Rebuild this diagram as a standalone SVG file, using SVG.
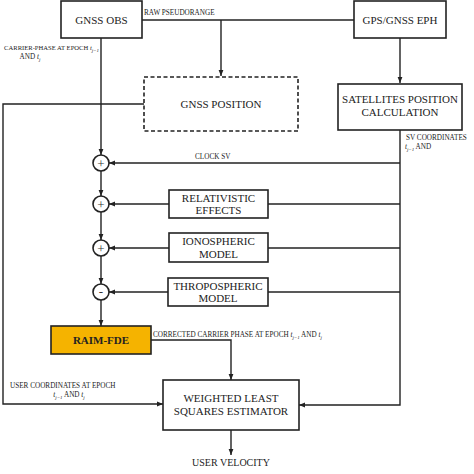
<svg xmlns="http://www.w3.org/2000/svg" width="474" height="474" viewBox="0 0 474 474">
<defs>
<style>
.box{fill:#fff;stroke:#222;stroke-width:1.6}
.dash{fill:#fff;stroke:#222;stroke-width:1.6;stroke-dasharray:4,2.5}
.raim{fill:#F5B300;stroke:#222;stroke-width:1.6}
.ln{fill:none;stroke:#222;stroke-width:1.4}
text{font-family:'Liberation Serif','Times New Roman','DejaVu Serif',serif}
.t{font-size:11px;fill:#222;text-anchor:middle}
.s{font-size:7.2px;fill:#222}
.b{font-weight:bold}
.sub{font-size:5px}
.it{font-style:italic}
.sg{font-size:13px;fill:#333;text-anchor:middle}
</style>
<marker id="ar" viewBox="0 0 10 10" refX="10" refY="5" markerWidth="6" markerHeight="6" orient="auto" markerUnits="userSpaceOnUse">
<path d="M0,1 L10,5 L0,9 z" fill="#222"/>
</marker>
</defs>
<rect width="474" height="474" fill="#fff"/>
<g id="connectors">
<path class="ln" d="M142,20 H354"/>
<path class="ln" d="M221,20 V76" marker-end="url(#ar)"/>
<path class="ln" d="M400,38 V83" marker-end="url(#ar)"/>
<path class="ln" d="M101,38 V155" marker-end="url(#ar)"/>
<path class="ln" d="M101,171 V196" marker-end="url(#ar)"/>
<path class="ln" d="M101,212 V240" marker-end="url(#ar)"/>
<path class="ln" d="M101,256 V284" marker-end="url(#ar)"/>
<path class="ln" d="M101,300 V326" marker-end="url(#ar)"/>
<path class="ln" d="M400,130 V405 H299" marker-end="url(#ar)"/>
<path class="ln" d="M400,163 H109" marker-end="url(#ar)"/>
<path class="ln" d="M400,204 H268"/>
<path class="ln" d="M169,204 H109" marker-end="url(#ar)"/>
<path class="ln" d="M400,248 H268"/>
<path class="ln" d="M169,248 H109" marker-end="url(#ar)"/>
<path class="ln" d="M400,292 H268"/>
<path class="ln" d="M168,292 H109" marker-end="url(#ar)"/>
<path class="ln" d="M144,104 H3 V404 H163" marker-end="url(#ar)"/>
<path class="ln" d="M151,340 H231 V380" marker-end="url(#ar)"/>
<path class="ln" d="M231,430 V455" marker-end="url(#ar)"/>
</g>
<g id="gnss-obs">
<rect class="box" x="61" y="1" width="81" height="37"/>
<text class="t" x="101.5" y="24">GNSS OBS</text>
</g>
<g id="gps-eph">
<rect class="box" x="354" y="1" width="92" height="37"/>
<text class="t" x="400" y="24">GPS/GNSS EPH</text>
</g>
<g id="gnss-position">
<rect class="dash" x="144" y="77" width="154" height="54"/>
<text class="t" x="221" y="108">GNSS POSITION</text>
</g>
<g id="sat-pos">
<rect class="box" x="338" y="84" width="124" height="46"/>
<text class="t" x="400" y="103">SATELLITES  POSITION</text>
<text class="t" x="400" y="116">CALCULATION</text>
</g>
<g id="sum1">
<circle class="box" cx="101" cy="163" r="8"/>
<text class="sg" x="101" y="167.5">+</text>
</g>
<g id="sum2">
<circle class="box" cx="101" cy="204" r="8"/>
<text class="sg" x="101" y="208.5">+</text>
</g>
<g id="sum3">
<circle class="box" cx="101" cy="248" r="8"/>
<text class="sg" x="101" y="252.5">+</text>
</g>
<g id="sum4">
<circle class="box" cx="101" cy="292" r="8"/>
<text class="sg" x="101" y="296">-</text>
</g>
<g id="relativistic">
<rect class="box" x="169" y="190" width="99" height="28"/>
<text class="t" x="218.5" y="202">RELATIVISTIC</text>
<text class="t" x="218.5" y="214">EFFECTS</text>
</g>
<g id="ionospheric">
<rect class="box" x="169" y="233" width="99" height="29"/>
<text class="t" x="218.5" y="245">IONOSPHERIC</text>
<text class="t" x="218.5" y="258">MODEL</text>
</g>
<g id="thropospheric">
<rect class="box" x="168" y="278" width="100" height="28"/>
<text class="t" x="218" y="290">THROPOSPHERIC</text>
<text class="t" x="218" y="302">MODEL</text>
</g>
<g id="raim-fde">
<rect class="raim" x="51" y="326" width="100" height="28"/>
<text class="t b" x="101" y="344">RAIM-FDE</text>
</g>
<g id="wls">
<rect class="box" x="163" y="380" width="136" height="50"/>
<text class="t" x="231" y="402">WEIGHTED LEAST</text>
<text class="t" x="231" y="415">SQUARES ESTIMATOR</text>
</g>
<g id="labels">
<text class="s" x="144" y="15">RAW PSEUDORANGE</text>
<text class="s" x="99" y="50" text-anchor="end" style="font-size:6.6px">CARRIER-PHASE AT EPOCH <tspan class="it">t</tspan><tspan class="sub it" dy="1.5">j−1</tspan></text>
<text class="s" x="30" y="59" text-anchor="middle">AND <tspan class="it">t</tspan><tspan class="sub it" dy="1.5">j</tspan></text>
<text class="s" x="406" y="140">SV COORDINATES</text>
<text class="s" x="418" y="149" text-anchor="middle"><tspan class="it">t</tspan><tspan class="sub it" dy="1.5">j−1</tspan><tspan dy="-1.5"> AND</tspan></text>
<text class="s" x="195" y="159">CLOCK SV</text>
<text class="s" x="153" y="337">CORRECTED CARRIER PHASE AT EPOCH <tspan class="it">t</tspan><tspan class="sub it" dy="1.5">j−1</tspan><tspan dy="-1.5"> AND </tspan><tspan class="it">t</tspan><tspan class="sub it" dy="1.5">j</tspan></text>
<text class="s" x="10" y="388">USER COORDINATES AT EPOCH</text>
<text class="s" x="69" y="397" text-anchor="middle"><tspan class="it">t</tspan><tspan class="sub it" dy="1.5">j−1</tspan><tspan dy="-1.5"> AND </tspan><tspan class="it">t</tspan><tspan class="sub it" dy="1.5">j</tspan></text>
<text class="t" x="231" y="466" style="font-size:10px">USER  VELOCITY</text>
</g>
</svg>
